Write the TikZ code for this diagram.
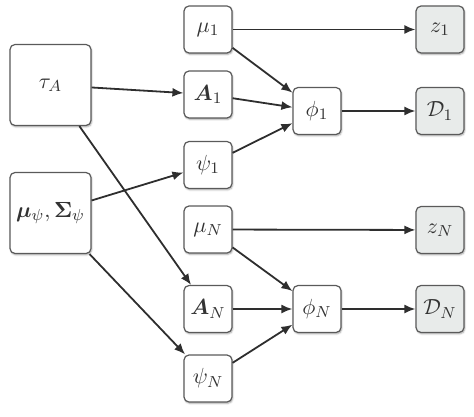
\documentclass[tikz,border=0pt]{standalone}
\usepackage{amsmath,bm}
\usetikzlibrary{arrows.meta,shadows.blur}
\definecolor{boxline}{HTML}{5A5A5A}
\definecolor{obsfill}{HTML}{E8EBEA}
\definecolor{txt}{HTML}{333333}
\definecolor{arr}{HTML}{2E2E2E}
\begin{document}
\begin{tikzpicture}[x=0.5pt,y=-0.5pt,
  box/.style={draw=boxline,line width=0.6pt,rounded corners=2.5pt,fill=white,
    text=txt,inner sep=0pt,minimum width=24pt,minimum height=23.5pt,
    font=\fontsize{11}{13}\selectfont,
    blur shadow={shadow xshift=0.4pt,shadow yshift=-0.7pt,shadow blur steps=4,shadow blur radius=0.8pt,shadow opacity=35}},
  bigbox/.style={box,minimum width=40.5pt,minimum height=40.5pt},
  obs/.style={box,fill=obsfill},
  edge/.style={draw=arr,line width=0.9pt,-{Latex[length=5.5pt,width=4.5pt]}}]
\useasboundingbox (0,0) rectangle (474,416);
\node[bigbox] (tauA) at (50.5,85) {$\tau_A$};
\node[bigbox] (mupsi) at (50.5,213) {$\bm{\mu}_\psi, \bm{\Sigma}_\psi$};
\node[box] (mu1) at (208,29.5) {$\mu_1$};
\node[box] (A1) at (208,94.5) {$\bm{A}_1$};
\node[box] (psi1) at (208,165) {$\psi_1$};
\node[box] (muN) at (208,229.5) {$\mu_N$};
\node[box] (AN) at (208,309) {$\bm{A}_N$};
\node[box] (psiN) at (208,378.5) {$\psi_N$};
\node[box] (phi1) at (317,111) {$\phi_1$};
\node[box] (phiN) at (317,309) {$\phi_N$};
\node[obs] (z1) at (440,29.5) {$z_1$};
\node[obs] (D1) at (440,111) {$\mathcal{D}_1$};
\node[obs] (zN) at (440,230) {$z_N$};
\node[obs] (DN) at (440,309) {$\mathcal{D}_N$};
\draw[edge] (tauA) -- (A1);
\draw[edge] (tauA) -- (AN);
\draw[edge] (mupsi) -- (psi1);
\draw[edge] (mupsi) -- (psiN);
\draw[edge] (mu1) -- (z1);
\draw[edge] (mu1) -- (phi1);
\draw[edge] (A1) -- (phi1);
\draw[edge] (psi1) -- (phi1);
\draw[edge] (phi1) -- (D1);
\draw[edge] (muN) -- (zN);
\draw[edge] (muN) -- (phiN);
\draw[edge] (AN) -- (phiN);
\draw[edge] (psiN) -- (phiN);
\draw[edge] (phiN) -- (DN);
\end{tikzpicture}
\end{document}
